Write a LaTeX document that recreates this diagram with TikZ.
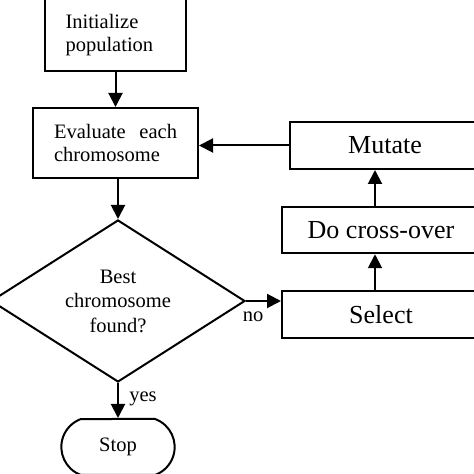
\documentclass[tikz,border=0pt]{standalone}
\usepackage{fontspec}
\setmainfont{Liberation Serif}
\usetikzlibrary{arrows.meta, shapes.geometric, shapes.misc}

\begin{document}
\begin{tikzpicture}[
      x=1pt, y=1pt,
      box/.style={draw, rectangle, line width=2pt, inner sep=0pt},
      small/.style={font=\fontsize{20.5}{23}\selectfont},
      big/.style={font=\fontsize{26}{30}\selectfont},
      arr/.style={line width=2pt, -{Triangle[length=14pt, width=14pt]}},
    ]
      \clip (0,0) rectangle (474,474);
      \node[box, small, minimum width=141pt, minimum height=72pt, text width=100pt, align=left] (init) at (115.5, 439) {Initialize\\population};
      \node[box, small, minimum width=165pt, minimum height=70pt, text width=123pt, align=left] (ev) at (115.5, 331) {Evaluate\hspace{0.67em}each\\chromosome};
      \node[diamond, draw, line width=2pt, aspect=1.57, minimum width=254pt, minimum height=162pt, inner sep=0pt, align=center, font=\fontsize{20.5}{24.5}\selectfont] (dia) at (118, 173) {Best\\chromosome\\found?};
      \node[rounded rectangle, rounded rectangle arc length=140, draw, line width=2pt, small, minimum width=120pt, minimum height=56pt] (stop) at (118, 27) {Stop};
      \node[box, big, minimum width=190pt, minimum height=47pt] (mut) at (385, 328.5) {Mutate};
      \node[box, big, minimum width=198pt, minimum height=46.5pt] (cross) at (381, 244) {Do cross-over};
      \node[box, big, minimum width=198pt, minimum height=47pt] (sel) at (381, 159.5) {Select};
      \node[small] (no) at (253, 157) {no};
      \node[small] (yes) at (143, 75) {yes};
      \draw[arr] (init) -- (ev);
      \draw[arr] (ev.south -| dia.north) -- (dia.north);
      \draw[arr] (dia.east) -- (dia.east -| sel.west);
      \draw[arr] (dia.south) -- (stop.north);
      \draw[arr] ([xshift=-6pt]sel.north) -- ([xshift=-6pt]cross.south);
      \draw[arr] ([xshift=-6pt]cross.north) -- ([xshift=-10pt]mut.south);
      \draw[arr] (mut.west) -- (mut.west -| ev.east);
    \end{tikzpicture}
\end{document}
